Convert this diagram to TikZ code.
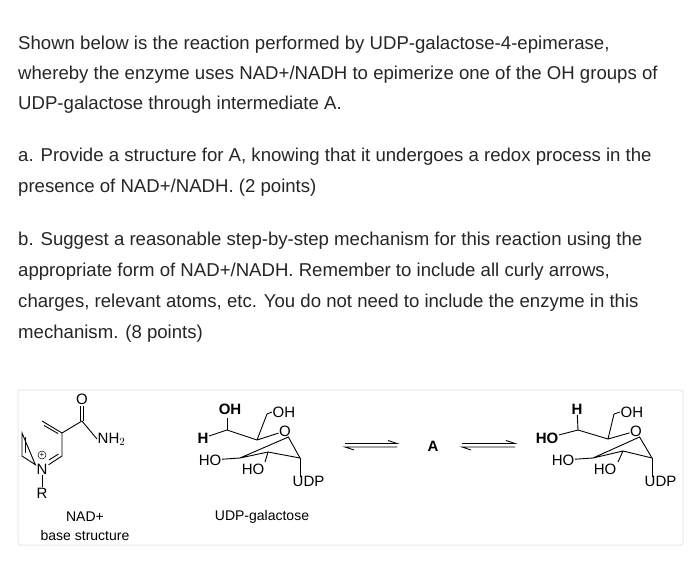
\documentclass[tikz,border=0pt]{standalone}
\usepackage{fontspec}
\setmainfont{Liberation Sans}
\begin{document}
\begin{tikzpicture}[x=1pt,y=-1pt,
  para/.style={anchor=west,inner sep=0,font=\fontsize{18.6}{20}\selectfont,text=black!85},
  lab/.style={inner sep=0.5,font=\fontsize{15}{17}\selectfont},
  bl/.style={inner sep=0.5,font=\fontsize{15}{17}\selectfont\bfseries},
  captext/.style={font=\fontsize{14}{16}\selectfont},
  bd/.style={line width=0.9pt},
  eqa/.style={line width=0.9pt}]
\useasboundingbox (0,0) rectangle (700,564);
\fill[white] (0,0) rectangle (700,564);
\node[para] (t1) at (18,45) {Shown below is the reaction performed by UDP-galactose-4-epimerase,};
\node[para] (t2) at (18,75) {whereby the enzyme uses NAD+/NADH to epimerize one of the OH groups of};
\node[para] (t3) at (18,105) {UDP-galactose through intermediate A.};
\node[para] (t4) at (18,157) {a. Provide a structure for A, knowing that it undergoes a redox process in the};
\node[para] (t5) at (18,188) {presence of NAD+/NADH. (2 points)};
\node[para] (t6) at (18,241) {b. Suggest a reasonable step-by-step mechanism for this reaction using the};
\node[para] (t7) at (18,272) {appropriate form of NAD+/NADH. Remember to include all curly arrows,};
\node[para] (t8) at (18,303) {charges, relevant atoms, etc. You do not need to include the enzyme in this};
\node[para] (t9) at (18,334) {mechanism. (8 points)};
\draw[black!8,line width=1pt,rounded corners=2] (18,390) rectangle (683,545);
% NAD+
\coordinate (r1) at (42,421); \coordinate (r2) at (62,433); \coordinate (r3) at (62,456);
\node[lab,inner sep=1] (N) at (42,469) {N};
\coordinate (r5) at (22,456); \coordinate (r6) at (22,433);
\draw[bd] (r1)--(r2)--(r3)--(N)--(r5)--(r6)--cycle;
\draw[bd] (44,425.5)--(58,433.5);
\draw[bd] (25.5,437)--(25.5,453);
\draw[bd] (58.5,454)--(49,460);
\node[circle,draw,line width=0.5pt,inner sep=0,minimum size=8pt,font=\fontsize{8}{8}\selectfont] (plus) at (42,455) {+};
\node[lab] (R) at (42,493) {R};
\draw[bd] (N)--(R);
\coordinate (cc) at (82,421);
\node[lab] (O1) at (82,399) {O};
\draw[bd] (r2)--(cc);
\draw[bd] (80.5,421)--(80.5,406) (83.5,421)--(83.5,406);
\node[lab,anchor=west] (nh2) at (97,439) {NH$_2$};
\draw[bd] (cc)--(nh2.west);
\node[captext] (nad) at (85,517) {NAD+};
\node[captext] (base) at (85,535) {base structure};
% UDP-galactose
\coordinate (c4) at (227,430); \coordinate (c5) at (257,440); \node[lab] (ro) at (285,431) {O};
\coordinate (c1) at (300,458); \coordinate (c2) at (268,452); \coordinate (c3) at (240,458);
\draw[bd] (c4)--(c5)--(ro)--(c1)--(c2)--(c3)--cycle;
\node[bl] (oh4) at (230,409) {OH}; \draw[bd] (c4)--(227,418);
\node[bl] (h4) at (203,438) {H}; \draw[bd] (c4)--(h4);
\coordinate (c6) at (267,414); \draw[bd] (c5)--(c6);
\node[lab,anchor=west] (oh6) at (272,412) {OH}; \draw[bd] (c6)--(oh6.west);
\node[lab,anchor=north west] (udp) at (292,475) {UDP}; \draw[bd] (c1)--(300,477);
\node[lab] (ho2) at (253,469) {HO}; \draw[bd] (c2)--(265,462);
\node[lab] (ho3) at (210,460) {HO}; \draw[bd] (c3)--(ho3);
\node[captext] (udpgal) at (262,517) {UDP-galactose};
% arrows
\node[bl] (A) at (433,446) {A};
\draw[eqa] (345,443.5)--(397,443.5)--(388,440.5);
\draw[eqa] (397,447)--(345,447)--(354,450);
\draw[eqa] (462,443.5)--(515,443.5)--(506,440.5);
\draw[eqa] (515,447)--(462,447)--(471,450);
% product
\coordinate (d4) at (578,430); \coordinate (d5) at (608,439); \node[lab] (po) at (636,431) {O};
\coordinate (d1) at (652,458); \coordinate (d2) at (623,451); \coordinate (d3) at (593,458);
\draw[bd] (d4)--(d5)--(po)--(d1)--(d2)--(d3)--cycle;
\node[bl] (ph) at (577,409) {H}; \draw[bd] (d4)--(ph);
\node[bl] (pho4) at (547,438) {HO}; \draw[bd] (d4)--(pho4);
\coordinate (d6) at (614,414); \draw[bd] (d5)--(d6);
\node[lab,anchor=west] (poh6) at (620,412) {OH}; \draw[bd] (d6)--(poh6.west);
\node[lab,anchor=north west] (pudp) at (644,475) {UDP}; \draw[bd] (d1)--(652,477);
\node[lab] (pho2) at (605,469) {HO}; \draw[bd] (d2)--(618,462);
\node[lab] (pho3) at (563,460) {HO}; \draw[bd] (d3)--(pho3);
\end{tikzpicture}
\end{document}
